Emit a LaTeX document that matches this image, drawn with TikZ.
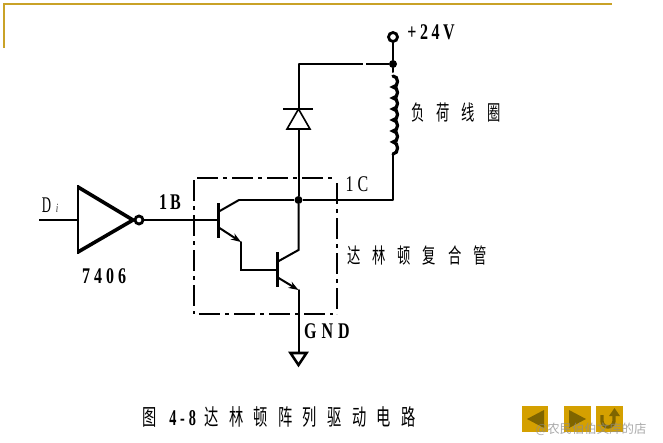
\documentclass[tikz,border=0pt]{standalone}
\usepackage{fontspec}
\setmainfont{Liberation Serif}
\newfontfamily\cjk{Noto Sans CJK SC}
\usetikzlibrary{arrows.meta}
\definecolor{gold}{HTML}{C9A227}
\definecolor{btn}{HTML}{D4A000}
\definecolor{btnd}{HTML}{7F6500}
\tikzset{
  wire/.style={line width=2pt,line cap=round},
  bar/.style={line width=3pt},
  boxline/.style={line width=2.2pt,dash pattern=on 21pt off 5pt on 4pt off 5pt},
  dotn/.style={circle,fill=black,inner sep=0pt,minimum size=8pt},
  ring/.style={circle,draw=black,line width=2.8pt,fill=white,inner sep=0pt,minimum size=8pt},
  lab/.style={inner sep=0pt,font=\fontsize{16pt}{16pt}\selectfont\bfseries},
  zh/.style={inner sep=0pt,font=\fontsize{14pt}{14pt}\selectfont\cjk},
  emit/.style={-{Stealth[length=10pt,width=7pt]},line width=2pt},
  button/.style={fill=btn,draw=none},
  glyph/.style={fill=btnd,draw=none}
}
\newcommand{\nar}[1]{\scalebox{1}[1.4]{#1}}
\newcommand{\zhs}[1]{\scalebox{0.95}[1.5]{#1}}
\newcommand{\gp}{\hspace{4pt}}
\newcommand{\zg}{\hspace{12.5pt}}
\newcommand{\cg}{\hspace{10.8pt}}
\begin{document}
\begin{tikzpicture}[x=1pt,y=-1pt]
\useasboundingbox (0,0) rectangle (663,442);
% frame
\draw[gold,line width=2pt] (4,48) -- (4,4) -- (612,4);
% coordinates
\coordinate (in) at (39,220);
\coordinate (t1) at (78,187);
\coordinate (t2) at (78,252);
\coordinate (t3) at (133,220);
\coordinate (inv) at (78,220);
\node[ring] (bub) at (139,220) {};
\coordinate (b1) at (218,220);
\coordinate (c1) at (218,212);
\coordinate (c1k) at (239,200);
\coordinate (e1) at (218,227);
\coordinate (e1k) at (241,242);
\coordinate (e1d) at (241,270);
\coordinate (b2) at (277,270);
\coordinate (c2) at (277,262);
\coordinate (c2k) at (298.5,250);
\coordinate (e2) at (277,277);
\coordinate (e2k) at (298.5,290);
\coordinate (gt) at (298.5,352);
\node[dotn] (j1) at (298.5,200) {};
\coordinate (r1) at (393,200);
\node[dotn] (j2) at (393,64) {};
\node[ring,minimum size=9pt] (vcc) at (393,37) {};
\coordinate (l1) at (298.5,64);
\coordinate (d1) at (298.5,109);
\coordinate (d2) at (298.5,129);
% inverter
\draw[wire,line cap=butt,line width=2.4pt] (in) -- (inv);
\draw[line width=3.6pt,line join=miter] (t2) -- (t3) -- (t1);
\draw[line width=2.4pt] (78,254) -- (78,185);
\draw[wire] (bub) -- (b1);
% dash-dot box
\draw[boxline] (197,178) -- (335,178);
\draw[boxline] (337,183) -- (337,314);
\draw[boxline] (199,314) -- (333,314);
\draw[boxline] (194,180) -- (194,314);
% transistor 1
\draw[bar] (218,203) -- (218,238);
\draw[wire] (c1) -- (c1k);
\draw[line width=2.6pt] (c1k) -- (j1) -- (r1);
\draw[emit] (e1) -- (e1k);
\draw[wire] (e1k) -- (e1d) -- (b2);
% transistor 2
\draw[bar] (277,252) -- (277,287);
\draw[wire] (c2) -- (c2k) -- (j1);
\draw[emit] (e2) -- (e2k);
\draw[wire] (e2k) -- (gt);
% ground
\draw[line width=2.6pt,line join=miter] (290.5,353) -- (306.5,353) -- (298.5,365) -- cycle;
% diode
\draw[wire] (j1) -- (d2);
\draw[wire] (d1) -- (l1);
\draw[line width=1.6pt] (287,129) -- (310,129) -- (d1) -- cycle;
\draw[line width=2pt] (283,109) -- (313,109);
% top rail
\draw[line width=2.6pt] (l1) -- (363,64);
\draw[line width=2.6pt] (366,64) -- (j2);
\draw[wire] (vcc) -- (j2);
% coil
\coordinate (coil0) at (393,76);
\coordinate (coil1) at (393,154);
\draw[wire] (j2) -- (393,72);
\draw[line width=3.2pt,line cap=round]
  (coil0) .. controls (399,76) and (399,87) .. (393,87)
  .. controls (399,87) and (399,98) .. (393,98)
  .. controls (399,98) and (399,109) .. (393,109)
  .. controls (399,109) and (399,120) .. (393,120)
  .. controls (399,120) and (399,131) .. (393,131)
  .. controls (399,131) and (399,142) .. (393,142)
  .. controls (399,142) and (399,154) .. (coil1);
\draw[wire] (coil1) -- (r1);
% buttons
\fill[button] (522,406) rectangle (548,432);
\fill[glyph] (527,419) -- (544,410) -- (544,428) -- cycle;
\fill[button] (564,406) rectangle (591,432);
\fill[glyph] (569,410) -- (586,419) -- (569,428) -- cycle;
\fill[button] (596,406) rectangle (623,432);
\draw[btnd,line width=3.4pt] (602,415) -- (602,421) arc[start angle=180,end angle=0,radius=6] -- (614,415);
\fill[glyph] (609,416) -- (614.5,408) -- (620,416) -- cycle;
% labels
\node[lab] (tdi) at (50,205) {\scalebox{0.8}[1.4]{\textmd{D}\hspace{6pt}\textit{\textmd{\small i}}}};
\node[lab] (t1b) at (170,202) {\nar{1\hspace{3pt}B}};
\node[lab] (t7406) at (104,276) {\nar{7\gp 4\gp 0\gp 6}};
\node[lab] (t1c) at (357,184) {\nar{\textmd{1\gp C}}};
\node[lab] (t24) at (431,32) {\nar{+\hspace{3.5pt}2\hspace{3.5pt}4\hspace{3.5pt}V}};
\node[lab] (tgnd) at (327,331) {\nar{G\hspace{5pt}N\hspace{5pt}D}};
\node[zh] (tload) at (456,112) {\zhs{负\zg 荷\zg 线\zg 圈}};
\node[zh] (tdar) at (417,255) {\zhs{达\zg 林\zg 顿\zg 复\zg 合\zg 管}};
\node[zh,font=\fontsize{15pt}{15pt}\selectfont\cjk] (tcap) at (279,417) {\zhs{图\hspace{13pt}{\bfseries\rmfamily 4\hspace{4pt}-\hspace{4pt}8}\hspace{9.5pt}达\cg 林\cg 顿\cg 阵\cg 列\cg 驱\cg 动\cg 电\cg 路}};
\node[inner sep=0pt,font=\fontsize{12.4pt}{12.4pt}\selectfont\cjk,text=black!45,opacity=0.75] (wm) at (591,429) {@农民伯伯文库的店};
\end{tikzpicture}
\end{document}
